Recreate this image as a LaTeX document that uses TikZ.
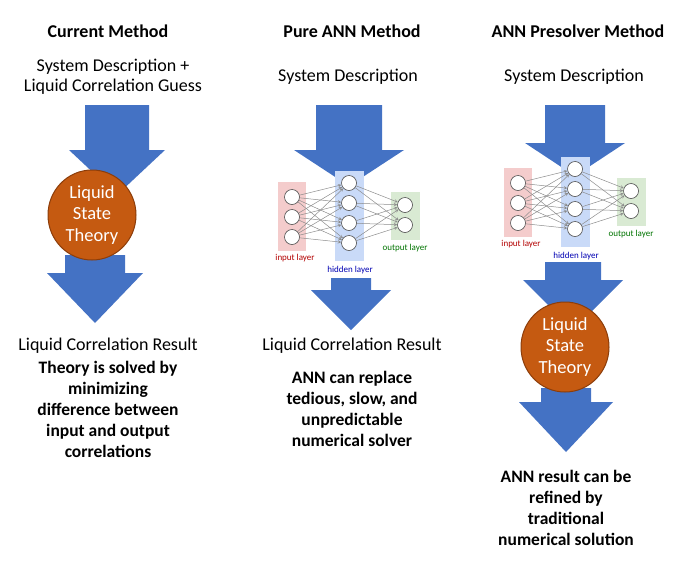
\documentclass[tikz,border=0pt]{standalone}
\usepackage{fontspec}
\setmainfont{Carlito}
\usetikzlibrary{shapes.geometric}
\begin{document}
\begin{tikzpicture}[x=1pt,y=-1pt,
 lst/.style={ellipse,fill=lstfill,draw=lstdraw,line width=1pt,text=white,align=center,font=\fontsize{18.5}{21.5}\selectfont,minimum width=88pt,minimum height=90pt,inner sep=0pt},
 ttl/.style={font=\bfseries\fontsize{18}{21}\selectfont},
 txt/.style={font=\fontsize{18}{20}\selectfont,align=center},
 note/.style={font=\bfseries\fontsize{17.5}{21}\selectfont,align=center},
 nn/.style={circle,draw=black!70,fill=white,line width=0.6pt,minimum size=15pt,inner sep=0pt},
 ed/.style={draw=black!45,line width=0.5pt,-stealth},
 lab/.style={font=\fontsize{9}{10}\selectfont}]
\definecolor{arrblue}{HTML}{4472C4}
\definecolor{lstfill}{HTML}{C55A11}
\definecolor{lstdraw}{HTML}{8C3D0A}
\definecolor{inred}{HTML}{F4CCCC}
\definecolor{hidblue}{HTML}{C9DAF8}
\definecolor{outgreen}{HTML}{D9EAD3}
\path[use as bounding box] (0,0) rectangle (692,568);
\newcommand{\bigarrow}[6]{% cx, top, shaft half width, head start, head half width, tip
 \fill[arrblue] (#1-#3,#2) -- (#1+#3,#2) -- (#1+#3,#4) -- (#1+#5,#4) -- (#1,#6) -- (#1-#5,#4) -- (#1-#3,#4) -- cycle;}
\newcommand{\annet}[3]{% name prefix, dx, dy
 \begin{scope}[shift={(#2,#3)}]
 \fill[inred] (278,182) rectangle (306,251);
 \fill[hidblue] (335,171) rectangle (364,261);
 \fill[outgreen] (391,192) rectangle (420,240);
 \foreach \i/\y in {1/197,2/217,3/237} \node[nn] (#1i\i) at (292,\y) {};
 \foreach \i/\y in {1/183,2/203,3/223,4/243} \node[nn] (#1h\i) at (349,\y) {};
 \foreach \i/\y in {1/205,2/225} \node[nn] (#1o\i) at (405,\y) {};
 \foreach \a in {1,2,3} \foreach \b in {1,2,3,4} \draw[ed] (#1i\a) -- (#1h\b);
 \foreach \a in {1,2,3,4} \foreach \b in {1,2} \draw[ed] (#1h\a) -- (#1o\b);
 \node[lab,text=red!70!black] (#1li) at (295,258) {input layer};
 \node[lab,text=blue!70!black] (#1lh) at (350,270) {hidden layer};
 \node[lab,text=green!45!black] (#1lo) at (405,248) {output layer};
 \end{scope}}
% column 1
\node[ttl] (t1) at (108,31) {Current Method};
\node[txt] (d1) at (113,77) {System Description +\\Liquid Correlation Guess};
\bigarrow{117}{105}{32}{150}{48}{195}
\bigarrow{95}{255}{30}{273}{48}{323}
\node[lst] (l1) at (92,215) {Liquid\\State\\Theory};
\node[txt] (r1) at (108,346) {Liquid Correlation Result};
\node[note] (n1) at (108,409) {Theory is solved by\\minimizing\\difference between\\input and output\\correlations};
% column 2
\node[ttl] (t2) at (352,31) {Pure ANN Method};
\node[txt] (d2) at (348,77) {System Description};
\bigarrow{349}{105}{33}{150}{55}{186}
\bigarrow{351}{278}{20}{290}{40}{330}
\annet{a}{0}{0}
\node[txt] (r2) at (352,346) {Liquid Correlation Result};
\node[note] (n2) at (352,409) {ANN can replace\\tedious, slow, and\\unpredictable\\numerical solver};
% column 3
\node[ttl] (t3) at (578,31) {ANN Presolver Method};
\node[txt] (d3) at (574,77) {System Description};
\bigarrow{575}{105}{30}{143}{50}{176}
\annet{b}{226}{-14}
\bigarrow{573}{262}{28}{280}{50}{330}
\bigarrow{566}{388}{25}{402}{47}{452}
\node[lst] (l3) at (565,347) {Liquid\\State\\Theory};
\node[note] (n3) at (566,508) {ANN result can be\\refined by\\traditional\\numerical solution};
\end{tikzpicture}
\end{document}
